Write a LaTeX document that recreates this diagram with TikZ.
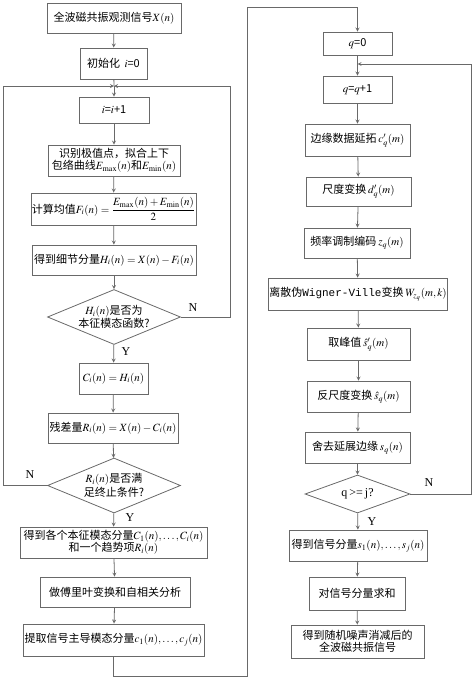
\documentclass[tikz,border=0pt]{standalone}
\usepackage{amsmath,amssymb}
\usepackage{mathptmx}
\usepackage[no-math]{fontspec}
\setmainfont{Liberation Serif}
\setmonofont{Liberation Mono}
\newfontfamily\cjk{Noto Sans CJK SC}
\usepackage{tikz}
\usetikzlibrary{calc}
\usetikzlibrary{shapes.geometric}
\definecolor{linegray}{RGB}{105,105,105}
\tikzset{
  box/.style={draw=linegray,line width=0.8pt,fill=white,align=center,inner sep=1pt,
    font=\cjk\fontsize{11}{13.5}\selectfont},
  decide/.style={diamond,draw=linegray,line width=0.8pt,inner sep=0pt},
  dtext/.style={align=center,font=\cjk\fontsize{11}{13.5}\selectfont},
  yn/.style={font=\rmfamily\fontsize{12}{12}\selectfont},
}
\begin{document}
\begin{tikzpicture}[>=stealth,x=1pt,y=-1pt,line width=0.8pt,draw=linegray]
    \useasboundingbox (0,0) rectangle (474,680);
    % left column
    \node[box,minimum width=134pt,minimum height=30pt] (sig) at (114,18) {全波磁共振观测信号$X(n)$};
    \node[box,minimum width=67pt,minimum height=31pt] (init) at (113.5,63.5) {初始化\, $i$=0};
    \coordinate (j1) at (114,86);
    \node[box,minimum width=70pt,minimum height=26pt] (inc) at (114,110) {$i$=$i$+1};
    \node[box,minimum width=132pt,minimum height=31pt] (env) at (114,160.5)
      {识别极值点，拟合上下\\[-1.5pt]包络曲线$E_{\max}(n)$和$E_{\min}(n)$};
    \node[box,minimum width=159pt,minimum height=32pt] (mean) at (113.5,209)
      {计算均值$F_i(n)=\dfrac{E_{\max}(n)+E_{\min}(n)}{2}$};
    \node[box,minimum width=164pt,minimum height=30pt] (detail) at (114,260)
      {得到细节分量$H_i(n)=X(n)-F_i(n)$};
    \node[decide,minimum width=133pt,minimum height=55pt] (d1) at (114,317) {};
    \node[dtext] at (d1) {$H_i(n)$是否为\\本征模态函数?};
    \node[box,minimum width=69pt,minimum height=31pt] (ci) at (113.5,378.5) {$C_i(n)=H_i(n)$};
    \node[box,minimum width=130pt,minimum height=30pt] (res) at (113,428) {残差量$R_i(n)=X(n)-C_i(n)$};
    \node[decide,minimum width=133pt,minimum height=55pt] (d2) at (114,485.5) {};
    \node[dtext] at (d2) {$R_i(n)$是否满\\足终止条件?};
    \node[box,minimum width=187pt,minimum height=31pt] (comp) at (113.5,542.5)
      {得到各个本征模态分量$C_1(n),\ldots,C_i(n)$\\[-1.5pt]和一个趋势项$R_i(n)$};
    \node[box,minimum width=150pt,minimum height=30pt] (fft) at (115,592) {做傅里叶变换和自相关分析};
    \node[box,minimum width=181pt,minimum height=32pt] (extract) at (113.5,640)
      {提取信号主导模态分量$c_1(n),\ldots,c_j(n)$};
    % right column
    \node[box,minimum width=69pt,minimum height=23pt] (q0) at (357.5,43.5) {$q$=0};
    \coordinate (j2) at (357.5,64);
    \node[box,minimum width=69pt,minimum height=27pt] (qinc) at (357.5,89.5) {$q$=$q$+1};
    \node[box,minimum width=105pt,minimum height=32pt] (ext) at (357.5,140) {边缘数据延拓\,$c_q'(m)$};
    \node[box,minimum width=105pt,minimum height=29pt] (scale) at (358.5,191.5) {尺度变换\,$d_q'(m)$};
    \node[box,minimum width=106pt,minimum height=30pt] (fm) at (357,243) {频率调制编码\,$z_q(m)$};
    \node[box,minimum width=176pt,minimum height=32pt] (wv) at (358,294)
      {离散伪\texttt{Wigner-Ville}变换\,$W_{z_q}(m,k)$};
    \node[box,minimum width=103pt,minimum height=32pt] (peak) at (358.5,344) {取峰值\,$\hat{s}'_q(m)$};
    \node[box,minimum width=103pt,minimum height=31pt] (iscale) at (358.5,396.5) {反尺度变换\,$\hat{s}_q(m)$};
    \node[box,minimum width=105pt,minimum height=31pt] (cut) at (357.5,447.5) {舍去延展边缘\,$s_q(n)$};
    \node[decide,minimum width=105pt,minimum height=38pt] (d3) at (357.5,494) {};
    \node[yn] at (d3) {q\,>=\,j?};
    \node[box,minimum width=138pt,minimum height=31pt] (sig2) at (358,545.5) {得到信号分量$s_1(n),\ldots,s_j(n)$};
    \node[box,minimum width=96pt,minimum height=33pt] (sum) at (357,593.5) {对信号分量求和};
    \node[box,minimum width=133pt,minimum height=33pt] (final) at (357.5,641.5)
      {得到随机噪声消减后的\\[-1.5pt]全波磁共振信号};
    % connectors
    \foreach \a/\b in {sig/init,inc/env,env/mean,mean/detail,detail/d1,d1/ci,ci/res,res/d2,
      d2/comp,comp/fft,fft/extract,q0/qinc,qinc/ext,ext/scale,scale/fm,fm/wv,wv/peak,
      peak/iscale,iscale/cut,cut/d3,d3/sig2,sig2/sum,sum/final}
      \draw[->] (\a) -- (\b);
    \draw (init) -- (j1);
    \draw[->] (j1) -- (inc);
    \draw[->] (d1.east) -| (230,86) -- (j1);
    \draw[->] (d2.west) -| (3,86) -- (j1);
    \draw[->] (extract.south) |- (247,676) -- (247,7) -| (q0.north);
    \draw[->] (d3.east) -| (471,64) -- (j2);
    \node[yn] at (193,308) {N};
    \node[yn] at (126,352) {Y};
    \node[yn] at (30,475) {N};
    \node[yn] at (130,518) {Y};
    \node[yn] at (429,483) {N};
    \node[yn] at (372,522) {Y};
  \end{tikzpicture}
\end{document}
